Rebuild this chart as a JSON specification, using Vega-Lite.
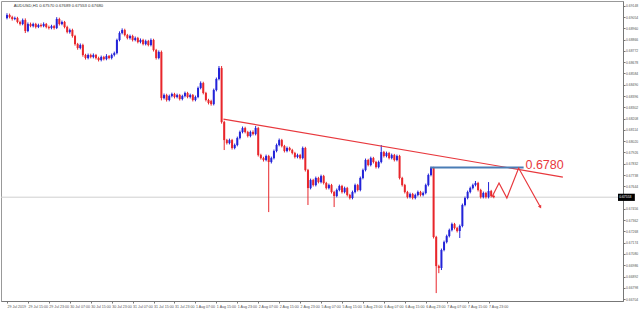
{
  "$schema": "https://vega.github.io/schema/vega-lite/v6.json",
  "width": 622,
  "height": 300,
  "autosize": {"type": "none"},
  "padding": {"left": 1, "top": 1, "right": 17, "bottom": 8},
  "background": "white",
  "view": {"stroke": "#999999", "strokeWidth": 1},
  "resolve": {"axis": {"x": "independent", "y": "independent"}},
  "config": {
    "font": "Liberation Sans",
    "axis": {"grid": false, "title": null, "domainColor": "#777777", "tickColor": "#777777", "labelColor": "#555555", "labelFont": "Liberation Sans"}
  },
  "datasets": {
    "candles": [
      {"i":0,"o":0.69046,"h":0.69086,"l":0.69035,"c":0.69071},
      {"i":1,"o":0.69071,"h":0.69083,"l":0.69043,"c":0.69054},
      {"i":2,"o":0.69054,"h":0.69065,"l":0.69025,"c":0.69038},
      {"i":3,"o":0.69038,"h":0.69058,"l":0.69028,"c":0.69046},
      {"i":4,"o":0.69046,"h":0.69056,"l":0.69002,"c":0.69013},
      {"i":5,"o":0.69013,"h":0.69024,"l":0.68984,"c":0.68996},
      {"i":6,"o":0.68996,"h":0.69042,"l":0.68986,"c":0.69029},
      {"i":7,"o":0.69029,"h":0.69043,"l":0.68921,"c":0.68938},
      {"i":8,"o":0.68938,"h":0.69009,"l":0.68928,"c":0.68996},
      {"i":9,"o":0.68996,"h":0.69008,"l":0.68969,"c":0.68979},
      {"i":10,"o":0.68979,"h":0.69007,"l":0.68968,"c":0.68996},
      {"i":11,"o":0.68996,"h":0.69006,"l":0.68959,"c":0.68971},
      {"i":12,"o":0.68971,"h":0.68999,"l":0.68962,"c":0.68988},
      {"i":13,"o":0.68988,"h":0.69001,"l":0.68968,"c":0.68979},
      {"i":14,"o":0.68979,"h":0.69010,"l":0.68969,"c":0.68996},
      {"i":15,"o":0.68996,"h":0.69005,"l":0.68960,"c":0.68971},
      {"i":16,"o":0.68971,"h":0.68983,"l":0.68951,"c":0.68963},
      {"i":17,"o":0.68963,"h":0.68990,"l":0.68952,"c":0.68979},
      {"i":18,"o":0.68979,"h":0.68989,"l":0.68950,"c":0.68963},
      {"i":19,"o":0.68963,"h":0.69053,"l":0.68954,"c":0.69038},
      {"i":20,"o":0.69038,"h":0.69049,"l":0.68984,"c":0.68996},
      {"i":21,"o":0.68996,"h":0.69025,"l":0.68986,"c":0.69013},
      {"i":22,"o":0.69013,"h":0.69022,"l":0.68960,"c":0.68971},
      {"i":23,"o":0.68971,"h":0.68982,"l":0.68918,"c":0.68929},
      {"i":24,"o":0.68929,"h":0.68958,"l":0.68916,"c":0.68946},
      {"i":25,"o":0.68946,"h":0.68957,"l":0.68883,"c":0.68896},
      {"i":26,"o":0.68896,"h":0.68906,"l":0.68816,"c":0.68829},
      {"i":27,"o":0.68829,"h":0.68839,"l":0.68782,"c":0.68796},
      {"i":28,"o":0.68796,"h":0.68834,"l":0.68785,"c":0.68821},
      {"i":29,"o":0.68821,"h":0.68832,"l":0.68724,"c":0.68738},
      {"i":30,"o":0.68738,"h":0.68748,"l":0.68700,"c":0.68713},
      {"i":31,"o":0.68713,"h":0.68750,"l":0.68702,"c":0.68738},
      {"i":32,"o":0.68738,"h":0.68749,"l":0.68710,"c":0.68721},
      {"i":33,"o":0.68721,"h":0.68751,"l":0.68710,"c":0.68738},
      {"i":34,"o":0.68738,"h":0.68747,"l":0.68701,"c":0.68713},
      {"i":35,"o":0.68713,"h":0.68724,"l":0.68684,"c":0.68696},
      {"i":36,"o":0.68696,"h":0.68733,"l":0.68685,"c":0.68721},
      {"i":37,"o":0.68721,"h":0.68731,"l":0.68693,"c":0.68704},
      {"i":38,"o":0.68704,"h":0.68745,"l":0.68694,"c":0.68729},
      {"i":39,"o":0.68729,"h":0.68738,"l":0.68702,"c":0.68713},
      {"i":40,"o":0.68713,"h":0.68750,"l":0.68701,"c":0.68738},
      {"i":41,"o":0.68738,"h":0.68766,"l":0.68726,"c":0.68754},
      {"i":42,"o":0.68754,"h":0.68874,"l":0.68743,"c":0.68863},
      {"i":43,"o":0.68863,"h":0.68935,"l":0.68852,"c":0.68921},
      {"i":44,"o":0.68921,"h":0.68960,"l":0.68910,"c":0.68946},
      {"i":45,"o":0.68946,"h":0.68957,"l":0.68893,"c":0.68904},
      {"i":46,"o":0.68904,"h":0.68914,"l":0.68868,"c":0.68879},
      {"i":47,"o":0.68879,"h":0.68908,"l":0.68867,"c":0.68896},
      {"i":48,"o":0.68896,"h":0.68907,"l":0.68851,"c":0.68863},
      {"i":49,"o":0.68863,"h":0.68892,"l":0.68852,"c":0.68879},
      {"i":50,"o":0.68879,"h":0.68889,"l":0.68835,"c":0.68846},
      {"i":51,"o":0.68846,"h":0.68876,"l":0.68835,"c":0.68863},
      {"i":52,"o":0.68863,"h":0.68873,"l":0.68818,"c":0.68829},
      {"i":53,"o":0.68829,"h":0.68866,"l":0.68818,"c":0.68854},
      {"i":54,"o":0.68854,"h":0.68864,"l":0.68810,"c":0.68821},
      {"i":55,"o":0.68821,"h":0.68876,"l":0.68810,"c":0.68863},
      {"i":56,"o":0.68863,"h":0.68873,"l":0.68767,"c":0.68779},
      {"i":57,"o":0.68779,"h":0.68789,"l":0.68700,"c":0.68713},
      {"i":58,"o":0.68713,"h":0.68776,"l":0.68702,"c":0.68763},
      {"i":59,"o":0.68763,"h":0.68775,"l":0.68360,"c":0.68379},
      {"i":60,"o":0.68379,"h":0.68417,"l":0.68368,"c":0.68404},
      {"i":61,"o":0.68404,"h":0.68415,"l":0.68350,"c":0.68363},
      {"i":62,"o":0.68363,"h":0.68408,"l":0.68352,"c":0.68396},
      {"i":63,"o":0.68396,"h":0.68424,"l":0.68385,"c":0.68413},
      {"i":64,"o":0.68413,"h":0.68423,"l":0.68376,"c":0.68388},
      {"i":65,"o":0.68388,"h":0.68416,"l":0.68377,"c":0.68404},
      {"i":66,"o":0.68404,"h":0.68414,"l":0.68359,"c":0.68371},
      {"i":67,"o":0.68371,"h":0.68407,"l":0.68360,"c":0.68396},
      {"i":68,"o":0.68396,"h":0.68433,"l":0.68385,"c":0.68421},
      {"i":69,"o":0.68421,"h":0.68431,"l":0.68377,"c":0.68388},
      {"i":70,"o":0.68388,"h":0.68416,"l":0.68376,"c":0.68404},
      {"i":71,"o":0.68404,"h":0.68413,"l":0.68351,"c":0.68363},
      {"i":72,"o":0.68363,"h":0.68400,"l":0.68352,"c":0.68388},
      {"i":73,"o":0.68388,"h":0.68475,"l":0.68378,"c":0.68463},
      {"i":74,"o":0.68463,"h":0.68518,"l":0.68452,"c":0.68504},
      {"i":75,"o":0.68504,"h":0.68515,"l":0.68410,"c":0.68421},
      {"i":76,"o":0.68421,"h":0.68431,"l":0.68351,"c":0.68363},
      {"i":77,"o":0.68363,"h":0.68373,"l":0.68326,"c":0.68338},
      {"i":78,"o":0.68354,"h":0.68365,"l":0.68316,"c":0.68329},
      {"i":79,"o":0.68329,"h":0.68458,"l":0.68318,"c":0.68446},
      {"i":80,"o":0.68446,"h":0.68550,"l":0.68435,"c":0.68538},
      {"i":81,"o":0.68538,"h":0.68646,"l":0.68527,"c":0.68629},
      {"i":82,"o":0.68629,"h":0.68646,"l":0.68166,"c":0.68179},
      {"i":83,"o":0.68179,"h":0.68190,"l":0.67946,"c":0.68029},
      {"i":84,"o":0.68029,"h":0.68039,"l":0.67992,"c":0.68004},
      {"i":85,"o":0.68004,"h":0.68041,"l":0.67993,"c":0.68029},
      {"i":86,"o":0.68029,"h":0.68039,"l":0.67950,"c":0.67963},
      {"i":87,"o":0.67963,"h":0.68000,"l":0.67952,"c":0.67988},
      {"i":88,"o":0.67988,"h":0.68058,"l":0.67977,"c":0.68046},
      {"i":89,"o":0.68046,"h":0.68108,"l":0.68035,"c":0.68096},
      {"i":90,"o":0.68096,"h":0.68142,"l":0.68085,"c":0.68129},
      {"i":91,"o":0.68129,"h":0.68140,"l":0.68085,"c":0.68096},
      {"i":92,"o":0.68096,"h":0.68106,"l":0.68051,"c":0.68063},
      {"i":93,"o":0.68063,"h":0.68108,"l":0.68052,"c":0.68096},
      {"i":94,"o":0.68096,"h":0.68110,"l":0.68068,"c":0.68079},
      {"i":95,"o":0.68079,"h":0.68146,"l":0.68068,"c":0.68129},
      {"i":96,"o":0.68129,"h":0.68139,"l":0.67892,"c":0.67904},
      {"i":97,"o":0.67904,"h":0.67915,"l":0.67867,"c":0.67879},
      {"i":98,"o":0.67879,"h":0.67890,"l":0.67850,"c":0.67863},
      {"i":99,"o":0.67863,"h":0.67908,"l":0.67852,"c":0.67896},
      {"i":100,"o":0.67896,"h":0.67906,"l":0.67429,"c":0.67846},
      {"i":101,"o":0.67846,"h":0.67891,"l":0.67834,"c":0.67879},
      {"i":102,"o":0.67879,"h":0.67950,"l":0.67868,"c":0.67938},
      {"i":103,"o":0.67938,"h":0.68000,"l":0.67927,"c":0.67988},
      {"i":104,"o":0.67988,"h":0.68042,"l":0.67977,"c":0.68029},
      {"i":105,"o":0.68029,"h":0.68039,"l":0.67968,"c":0.67979},
      {"i":106,"o":0.67979,"h":0.67989,"l":0.67926,"c":0.67938},
      {"i":107,"o":0.67938,"h":0.67975,"l":0.67927,"c":0.67963},
      {"i":108,"o":0.67963,"h":0.67973,"l":0.67935,"c":0.67946},
      {"i":109,"o":0.67946,"h":0.67956,"l":0.67910,"c":0.67921},
      {"i":110,"o":0.67921,"h":0.67931,"l":0.67876,"c":0.67888},
      {"i":111,"o":0.67888,"h":0.67916,"l":0.67877,"c":0.67904},
      {"i":112,"o":0.67904,"h":0.67914,"l":0.67868,"c":0.67879},
      {"i":113,"o":0.67879,"h":0.67975,"l":0.67868,"c":0.67963},
      {"i":114,"o":0.67963,"h":0.67973,"l":0.67767,"c":0.67779},
      {"i":115,"o":0.67779,"h":0.67789,"l":0.67488,"c":0.67629},
      {"i":116,"o":0.67629,"h":0.67708,"l":0.67618,"c":0.67696},
      {"i":117,"o":0.67696,"h":0.67706,"l":0.67642,"c":0.67654},
      {"i":118,"o":0.67654,"h":0.67725,"l":0.67643,"c":0.67713},
      {"i":119,"o":0.67713,"h":0.67723,"l":0.67668,"c":0.67679},
      {"i":120,"o":0.67679,"h":0.67741,"l":0.67668,"c":0.67729},
      {"i":121,"o":0.67729,"h":0.67739,"l":0.67659,"c":0.67671},
      {"i":122,"o":0.67671,"h":0.67681,"l":0.67617,"c":0.67629},
      {"i":123,"o":0.67629,"h":0.67666,"l":0.67618,"c":0.67654},
      {"i":124,"o":0.67654,"h":0.67664,"l":0.67584,"c":0.67596},
      {"i":125,"o":0.67596,"h":0.67606,"l":0.67471,"c":0.67563},
      {"i":126,"o":0.67563,"h":0.67625,"l":0.67552,"c":0.67613},
      {"i":127,"o":0.67613,"h":0.67658,"l":0.67602,"c":0.67646},
      {"i":128,"o":0.67646,"h":0.67656,"l":0.67584,"c":0.67596},
      {"i":129,"o":0.67596,"h":0.67641,"l":0.67585,"c":0.67629},
      {"i":130,"o":0.67629,"h":0.67639,"l":0.67559,"c":0.67571},
      {"i":131,"o":0.67571,"h":0.67581,"l":0.67534,"c":0.67546},
      {"i":132,"o":0.67546,"h":0.67608,"l":0.67535,"c":0.67596},
      {"i":133,"o":0.67596,"h":0.67666,"l":0.67585,"c":0.67654},
      {"i":134,"o":0.67654,"h":0.67664,"l":0.67601,"c":0.67613},
      {"i":135,"o":0.67613,"h":0.67725,"l":0.67602,"c":0.67713},
      {"i":136,"o":0.67713,"h":0.67791,"l":0.67702,"c":0.67779},
      {"i":137,"o":0.67779,"h":0.67875,"l":0.67768,"c":0.67863},
      {"i":138,"o":0.67863,"h":0.67873,"l":0.67810,"c":0.67821},
      {"i":139,"o":0.67821,"h":0.67891,"l":0.67810,"c":0.67879},
      {"i":140,"o":0.67879,"h":0.67889,"l":0.67834,"c":0.67846},
      {"i":141,"o":0.67846,"h":0.67856,"l":0.67792,"c":0.67804},
      {"i":142,"o":0.67804,"h":0.67858,"l":0.67793,"c":0.67846},
      {"i":143,"o":0.67846,"h":0.67988,"l":0.67835,"c":0.67929},
      {"i":144,"o":0.67929,"h":0.67939,"l":0.67884,"c":0.67896},
      {"i":145,"o":0.67896,"h":0.67933,"l":0.67885,"c":0.67921},
      {"i":146,"o":0.67921,"h":0.67931,"l":0.67868,"c":0.67879},
      {"i":147,"o":0.67879,"h":0.67916,"l":0.67868,"c":0.67904},
      {"i":148,"o":0.67904,"h":0.67914,"l":0.67851,"c":0.67863},
      {"i":149,"o":0.67863,"h":0.67908,"l":0.67852,"c":0.67896},
      {"i":150,"o":0.67896,"h":0.67906,"l":0.67701,"c":0.67713},
      {"i":151,"o":0.67713,"h":0.67723,"l":0.67642,"c":0.67654},
      {"i":152,"o":0.67654,"h":0.67664,"l":0.67584,"c":0.67596},
      {"i":153,"o":0.67596,"h":0.67606,"l":0.67542,"c":0.67554},
      {"i":154,"o":0.67554,"h":0.67591,"l":0.67543,"c":0.67579},
      {"i":155,"o":0.67579,"h":0.67589,"l":0.67534,"c":0.67546},
      {"i":156,"o":0.67546,"h":0.67583,"l":0.67535,"c":0.67571},
      {"i":157,"o":0.67571,"h":0.67608,"l":0.67560,"c":0.67596},
      {"i":158,"o":0.67596,"h":0.67606,"l":0.67559,"c":0.67571},
      {"i":159,"o":0.67571,"h":0.67600,"l":0.67560,"c":0.67588},
      {"i":160,"o":0.67588,"h":0.67666,"l":0.67577,"c":0.67654},
      {"i":161,"o":0.67654,"h":0.67750,"l":0.67643,"c":0.67738},
      {"i":162,"o":0.67738,"h":0.67806,"l":0.67727,"c":0.67796},
      {"i":163,"o":0.67796,"h":0.67806,"l":0.67209,"c":0.67221},
      {"i":164,"o":0.67221,"h":0.67231,"l":0.66754,"c":0.66979},
      {"i":165,"o":0.66979,"h":0.66990,"l":0.66920,"c":0.66963},
      {"i":166,"o":0.66963,"h":0.67125,"l":0.66946,"c":0.67113},
      {"i":167,"o":0.67113,"h":0.67191,"l":0.67102,"c":0.67179},
      {"i":168,"o":0.67179,"h":0.67241,"l":0.67168,"c":0.67229},
      {"i":169,"o":0.67229,"h":0.67291,"l":0.67218,"c":0.67279},
      {"i":170,"o":0.67279,"h":0.67341,"l":0.67268,"c":0.67329},
      {"i":171,"o":0.67329,"h":0.67339,"l":0.67284,"c":0.67296},
      {"i":172,"o":0.67296,"h":0.67306,"l":0.67259,"c":0.67271},
      {"i":173,"o":0.67271,"h":0.67325,"l":0.67213,"c":0.67313},
      {"i":174,"o":0.67313,"h":0.67500,"l":0.67302,"c":0.67488},
      {"i":175,"o":0.67488,"h":0.67558,"l":0.67477,"c":0.67546},
      {"i":176,"o":0.67546,"h":0.67608,"l":0.67535,"c":0.67596},
      {"i":177,"o":0.67596,"h":0.67641,"l":0.67585,"c":0.67629},
      {"i":178,"o":0.67629,"h":0.67666,"l":0.67618,"c":0.67654},
      {"i":179,"o":0.67654,"h":0.67688,"l":0.67643,"c":0.67671},
      {"i":180,"o":0.67671,"h":0.67681,"l":0.67601,"c":0.67613},
      {"i":181,"o":0.67613,"h":0.67623,"l":0.67542,"c":0.67554},
      {"i":182,"o":0.67554,"h":0.67600,"l":0.67543,"c":0.67588},
      {"i":183,"o":0.67588,"h":0.67598,"l":0.67542,"c":0.67554},
      {"i":184,"o":0.67554,"h":0.67679,"l":0.67543,"c":0.67604},
      {"i":185,"o":0.67604,"h":0.67614,"l":0.67551,"c":0.67563},
      {"i":186,"o":0.67563,"h":0.67574,"l":0.67544,"c":0.67554}
    ],
    "trend": [
      {"i": 82.7, "p": 0.68204},
      {"i": 212.4, "p": 0.67721}
    ],
    "zig": [
      {"k": 0, "i": 185.3, "p": 0.67554},
      {"k": 1, "i": 188.0, "p": 0.67671},
      {"k": 2, "i": 191.0, "p": 0.67546},
      {"k": 3, "i": 195.5, "p": 0.67796},
      {"k": 4, "i": 203.8, "p": 0.67471}
    ],
    "level": [
      {"i": 161.7, "i2": 197.4, "p": 0.6780, "label": "0.6780", "ti": 198.1, "tp": 0.67821}
    ],
    "price": [
      {"p": 0.67553, "label": "0.67553", "i": 233.46, "i2": 239.9, "top": 0.67582, "bottom": 0.67522, "ti": 233.9}
    ],
    "header": [
      {"i": 2.6, "p": 0.69150, "label": "AUDUSD,H1  0.67570 0.67689 0.67553 0.67680"}
    ]
  },
  "layer": [
    {
      "data": {"name": "price"},
      "mark": {"type": "rule", "color": "#cfcfcf", "strokeWidth": 1},
      "encoding": {
        "y": {"field": "p", "type": "quantitative", "scale": {"domain": [0.66688, 0.69188], "nice": false, "zero": false}, "axis": null}
      }
    },
    {
      "data": {"name": "candles"},
      "mark": {"type": "rule", "strokeWidth": 1},
      "encoding": {
        "x": {"field": "i", "type": "quantitative", "scale": {"domain": [-0.376, 233.46], "nice": false, "zero": false},
          "axis": {"orient": "bottom", "values": [0,8,16,24,32,40,48,56,64,72,80,88,96,104,112,120,128,136,144,152,160,168,176,184],
            "labelExpr": "['29 Jul 2019','29 Jul 15:00','29 Jul 23:00','30 Jul 07:00','30 Jul 15:00','30 Jul 23:00','31 Jul 07:00','31 Jul 15:00','31 Jul 23:00','1 Aug 07:00','1 Aug 15:00','1 Aug 23:00','2 Aug 07:00','2 Aug 15:00','2 Aug 23:00','5 Aug 07:00','5 Aug 15:00','5 Aug 23:00','6 Aug 07:00','6 Aug 15:00','6 Aug 23:00','7 Aug 07:00','7 Aug 15:00','7 Aug 23:00'][round(datum.value/8)]",
            "labelAlign": "left", "labelFontSize": 3.6, "labelPadding": 1, "tickSize": 2, "labelFlush": false, "labelOverlap": false}},
        "y": {"field": "l", "type": "quantitative", "scale": {"domain": [0.66688, 0.69188], "nice": false, "zero": false},
          "axis": {"orient": "right", "values": [0.69148,0.69054,0.68960,0.68866,0.68772,0.68678,0.68584,0.68490,0.68396,0.68302,0.68208,0.68114,0.68020,0.67926,0.67832,0.67738,0.67644,0.67456,0.67362,0.67268,0.67174,0.67080,0.66986,0.66892,0.66798,0.66704],
            "format": ".5f", "labelFontSize": 3.4, "labelPadding": 0.5, "tickSize": 2, "labelOverlap": false, "labelFlush": false}},
        "y2": {"field": "h"},
        "color": {"condition": {"test": "datum.c >= datum.o", "value": "#2323d8"}, "value": "#e8262b"}
      }
    },
    {
      "data": {"name": "candles"},
      "mark": {"type": "bar", "size": 2},
      "encoding": {
        "x": {"field": "i", "type": "quantitative", "scale": {"domain": [-0.376, 233.46], "nice": false, "zero": false}, "axis": null},
        "y": {"field": "o", "type": "quantitative", "scale": {"domain": [0.66688, 0.69188], "nice": false, "zero": false}, "axis": null},
        "y2": {"field": "c"},
        "color": {"condition": {"test": "datum.c >= datum.o", "value": "#2323d8"}, "value": "#e8262b"}
      }
    },
    {
      "data": {"name": "trend"},
      "mark": {"type": "line", "color": "#e8383d", "strokeWidth": 1.2},
      "encoding": {
        "x": {"field": "i", "type": "quantitative", "scale": {"domain": [-0.376, 233.46], "nice": false, "zero": false}, "axis": null},
        "y": {"field": "p", "type": "quantitative", "scale": {"domain": [0.66688, 0.69188], "nice": false, "zero": false}, "axis": null}
      }
    },
    {
      "data": {"name": "level"},
      "mark": {"type": "rule", "color": "#4a7db5", "strokeWidth": 2},
      "encoding": {
        "x": {"field": "i", "type": "quantitative", "scale": {"domain": [-0.376, 233.46], "nice": false, "zero": false}, "axis": null},
        "x2": {"field": "i2"},
        "y": {"field": "p", "type": "quantitative", "scale": {"domain": [0.66688, 0.69188], "nice": false, "zero": false}, "axis": null}
      }
    },
    {
      "data": {"name": "zig"},
      "mark": {"type": "line", "color": "#e8383d", "strokeWidth": 1.2},
      "encoding": {
        "x": {"field": "i", "type": "quantitative", "scale": {"domain": [-0.376, 233.46], "nice": false, "zero": false}, "axis": null},
        "y": {"field": "p", "type": "quantitative", "scale": {"domain": [0.66688, 0.69188], "nice": false, "zero": false}, "axis": null},
        "order": {"field": "k"}
      }
    },
    {
      "data": {"name": "zig"},
      "transform": [{"filter": "datum.k == 4"}],
      "mark": {"type": "point", "shape": "triangle-up", "filled": true, "color": "#e8383d", "size": 14, "angle": 151, "opacity": 1},
      "encoding": {
        "x": {"field": "i", "type": "quantitative", "scale": {"domain": [-0.376, 233.46], "nice": false, "zero": false}, "axis": null},
        "y": {"field": "p", "type": "quantitative", "scale": {"domain": [0.66688, 0.69188], "nice": false, "zero": false}, "axis": null}
      }
    },
    {
      "data": {"name": "level"},
      "mark": {"type": "text", "color": "#e8383d", "fontSize": 12.5, "align": "left", "baseline": "middle", "font": "Liberation Sans"},
      "encoding": {
        "x": {"field": "ti", "type": "quantitative", "scale": {"domain": [-0.376, 233.46], "nice": false, "zero": false}, "axis": null},
        "y": {"field": "tp", "type": "quantitative", "scale": {"domain": [0.66688, 0.69188], "nice": false, "zero": false}, "axis": null},
        "text": {"field": "label"}
      }
    },
    {
      "data": {"name": "price"},
      "mark": {"type": "rect", "color": "#000000", "clip": false},
      "encoding": {
        "x": {"field": "i", "type": "quantitative", "scale": {"domain": [-0.376, 233.46], "nice": false, "zero": false}, "axis": null},
        "x2": {"field": "i2"},
        "y": {"field": "top", "type": "quantitative", "scale": {"domain": [0.66688, 0.69188], "nice": false, "zero": false}, "axis": null},
        "y2": {"field": "bottom"}
      }
    },
    {
      "data": {"name": "price"},
      "mark": {"type": "text", "color": "#ffffff", "fontSize": 3.4, "align": "left", "baseline": "middle"},
      "encoding": {
        "x": {"field": "ti", "type": "quantitative", "scale": {"domain": [-0.376, 233.46], "nice": false, "zero": false}, "axis": null},
        "y": {"field": "p", "type": "quantitative", "scale": {"domain": [0.66688, 0.69188], "nice": false, "zero": false}, "axis": null},
        "text": {"field": "label"}
      }
    },
    {
      "data": {"name": "header"},
      "mark": {"type": "text", "color": "#333333", "fontSize": 4.2, "align": "left", "baseline": "middle"},
      "encoding": {
        "x": {"field": "i", "type": "quantitative", "scale": {"domain": [-0.376, 233.46], "nice": false, "zero": false}, "axis": null},
        "y": {"field": "p", "type": "quantitative", "scale": {"domain": [0.66688, 0.69188], "nice": false, "zero": false}, "axis": null},
        "text": {"field": "label"}
      }
    }
  ]
}
